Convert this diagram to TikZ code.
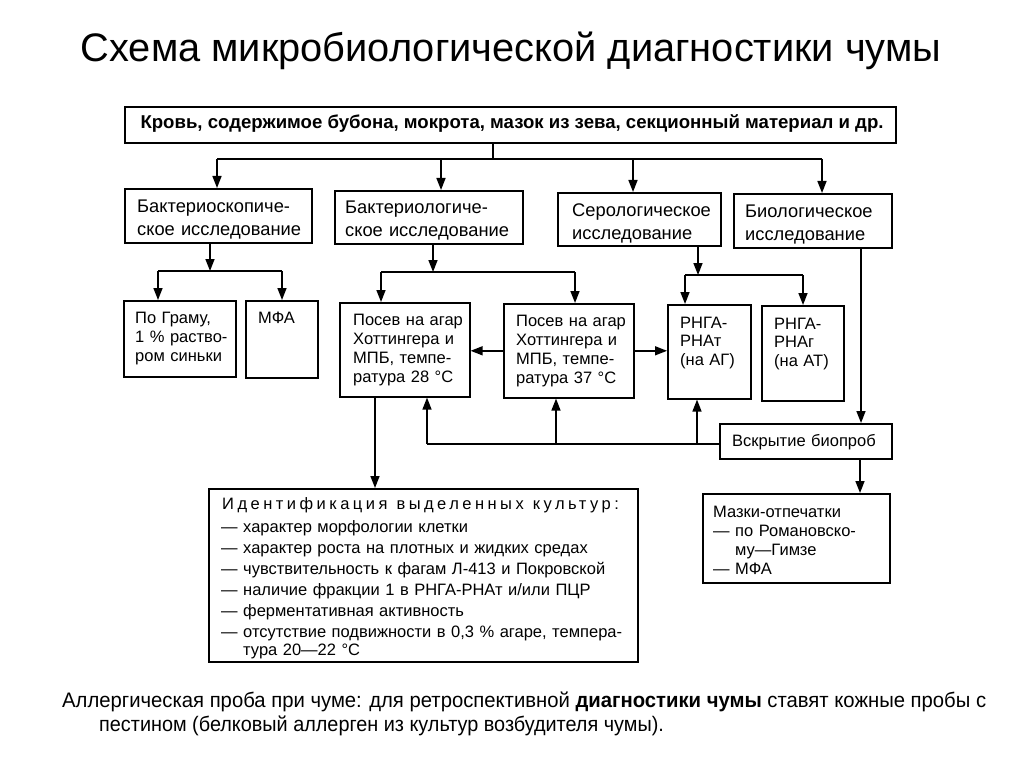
\documentclass[tikz,border=0pt]{standalone}
\usepackage{fontspec}
\setmainfont{Liberation Sans}
\usetikzlibrary{arrows.meta}
\newcommand\fTitle{\fontsize{39.8}{42}\selectfont}
\newcommand\fTop{\fontsize{18.6}{20}\bfseries\selectfont}
\newcommand\fRowA{\fontsize{18.3}{22.5}\selectfont}
\newcommand\fRowB{\fontsize{16.5}{19.3}\selectfont}
\newcommand\fRowR{\fontsize{16.5}{18.5}\selectfont}
\newcommand\fIdent{\fontsize{16.5}{21}\selectfont}
\newcommand\fMaz{\fontsize{16.5}{19}\selectfont}
\newcommand\fFoot{\fontsize{21}{24}\selectfont}
\newcommand\mkbox[5]{\node[box, minimum width={#4-#2}, minimum height={#5-#3}] (#1) at (#2,#3) {};}
\begin{document}
\begin{tikzpicture}[x=1pt,y=-1pt,
  box/.style={draw=black, line width=1.6pt, inner sep=0pt, anchor=north west},
  txt/.style={inner sep=0pt, anchor=base west, align=left, text width=440pt},
  conn/.style={draw=black, line width=1.5pt},
  arr/.style={conn, -{Triangle[length=12pt,width=9pt]}},
]
\useasboundingbox (0,0) rectangle (1024,767);

% title
\node[inner sep=0pt, anchor=base, font=\fTitle] (title) at (511,62) {Схема микробиологической диагностики чумы};

% boxes
\mkbox{src}{124}{106}{895}{142}
\mkbox{bsc}{124}{188}{311}{242}
\mkbox{bl}{334}{190}{522}{243}
\mkbox{ser}{557}{192}{720}{245}
\mkbox{bio}{733}{193}{891}{247}
\mkbox{gram}{123}{300}{235}{376}
\mkbox{mfa}{245}{300}{317}{377}
\mkbox{p28}{339}{302}{469}{396}
\mkbox{p37}{503}{303}{633}{397}
\mkbox{rt}{667}{304}{750}{398}
\mkbox{rg}{761}{305}{843}{400}
\mkbox{vskr}{719}{423}{891}{458}
\mkbox{ident}{208}{488}{637}{661}
\mkbox{mazki}{702}{493}{889}{582}

% texts
\node[inner sep=0pt, anchor=base, font=\fTop] (tsrc) at (512,129) {Кровь, содержимое бубона, мокрота, мазок из зева, секционный материал и др.};
\node[txt, font=\fRowA] (tbsc) at (137,213) {Бактериоскопиче-\\ское исследование};
\node[txt, font=\fRowA] (tbl) at (345,214) {Бактериологиче-\\ское исследование};
\node[txt, font=\fRowA] (tser) at (572,217) {Серологическое\\исследование};
\node[txt, font=\fRowA] (tbio) at (745,218) {Биологическое\\исследование};
\node[txt, font=\fRowB] (tgram) at (135,323) {По Граму,\\1 \% раство-\\ром синьки};
\node[txt, font=\fRowB] (tmfa) at (258,323) {МФА};
\node[txt, font=\fRowB] (tp28) at (353,325) {Посев на агар\\Хоттингера и\\МПБ, темпе-\\ратура 28 °C};
\node[txt, font=\fRowB] (tp37) at (516,326) {Посев на агар\\Хоттингера и\\МПБ, темпе-\\ратура 37 °C};
\node[txt, font=\fRowR] (trt) at (680,328) {РНГА-\\РНАт\\(на АГ)};
\node[txt, font=\fRowR] (trg) at (774,329) {РНГА-\\РНАг\\(на АТ)};
\node[txt, font=\fIdent] (tvskr) at (732,446) {Вскрытие биопроб};
\node[txt, font=\fIdent] (tidh) at (222,509) {\addfontfeature{LetterSpace=21}Идентификация\hspace{0.55em}выделенных\hspace{0.55em}культур:};
\node[txt, font=\fIdent] (tid) at (221,532) {— характер морфологии клетки\\— характер роста на плотных и жидких средах\\— чувствительность к фагам Л-413 и Покровской\\— наличие фракции 1 в РНГА-РНАт и/или ПЦР\\— ферментативная активность\\— отсутствие подвижности в 0,3 \% агаре, темпера-\\[-3pt]\phantom{— }тура 20—22 °C};
\node[txt, font=\fMaz] (tmaz) at (713,517) {Мазки-отпечатки\\— по Романовско-\\\phantom{— }му—Гимзе\\— МФА};

% footer
\node[inner sep=0pt, anchor=base west, font=\fFoot] (foot1) at (62,707) {\scalebox{0.965}[1]{Аллергическая проба при чуме: для ретроспективной \textbf{диагностики чумы} ставят кожные пробы с}};
\node[inner sep=0pt, anchor=base west, font=\fFoot] (foot2) at (99,731) {\scalebox{0.945}[1]{пестином (белковый аллерген из культур возбудителя чумы).}};

% connectors: top level
\coordinate (bm) at (493,159);
\coordinate (b0) at (217,159);
\coordinate (b1) at (441,159);
\coordinate (b2) at (633,159);
\coordinate (b3) at (822,159);
\draw[conn] (src.south -| bm) -- (bm);
\draw[conn] (b0) -- (b3);
\draw[arr] (b0) -- (b0 |- bsc.north);
\draw[arr] (b1) -- (b1 |- bl.north);
\draw[arr] (b2) -- (b2 |- ser.north);
\draw[arr] (b3) -- (b3 |- bio.north);

% bacterioscopic
\coordinate (cm) at (210,271);
\coordinate (c0) at (158,271);
\coordinate (c1) at (282,271);
\draw[arr] (bsc.south -| cm) -- (cm);
\draw[conn] (c0) -- (c1);
\draw[arr] (c0) -- (c0 |- gram.north);
\draw[arr] (c1) -- (c1 |- mfa.north);

% bacteriological
\coordinate (dm) at (433,272);
\coordinate (d0) at (381,272);
\coordinate (d1) at (575,272);
\draw[arr] (bl.south -| dm) -- (dm);
\draw[conn] (d0) -- (d1);
\draw[arr] (d0) -- (d0 |- p28.north);
\draw[arr] (d1) -- (d1 |- p37.north);

% serological
\coordinate (em) at (698,275);
\coordinate (e0) at (685,275);
\coordinate (e1) at (803,275);
\draw[arr] (ser.south -| em) -- (em);
\draw[conn] (e0) -- (e1);
\draw[arr] (e0) -- (e0 |- rt.north);
\draw[arr] (e1) -- (e1 |- rg.north);

% biological
\coordinate (fv) at (861,300);
\draw[arr] (bio.south -| fv) -- (vskr.north -| fv);

% between cultures
\draw[arr] (p37.west) -- (p37.west -| p28.east);
\draw[arr] (p37.east) -- (p37.east -| rt.west);

% bioprobe feedback
\coordinate (g0) at (427,444);
\coordinate (g1) at (556,444);
\coordinate (g2) at (697,444);
\draw[conn] (g0 -| vskr.west) -- (g0);
\draw[arr] (g0) -- (g0 |- p28.south);
\draw[arr] (g1) -- (g1 |- p37.south);
\draw[arr] (g2) -- (g2 |- rt.south);

% to identification and smears
\coordinate (h) at (375,420);
\draw[arr] (p28.south -| h) -- (ident.north -| h);
\coordinate (k) at (860,470);
\draw[arr] (vskr.south -| k) -- (mazki.north -| k);
\end{tikzpicture}
\end{document}
